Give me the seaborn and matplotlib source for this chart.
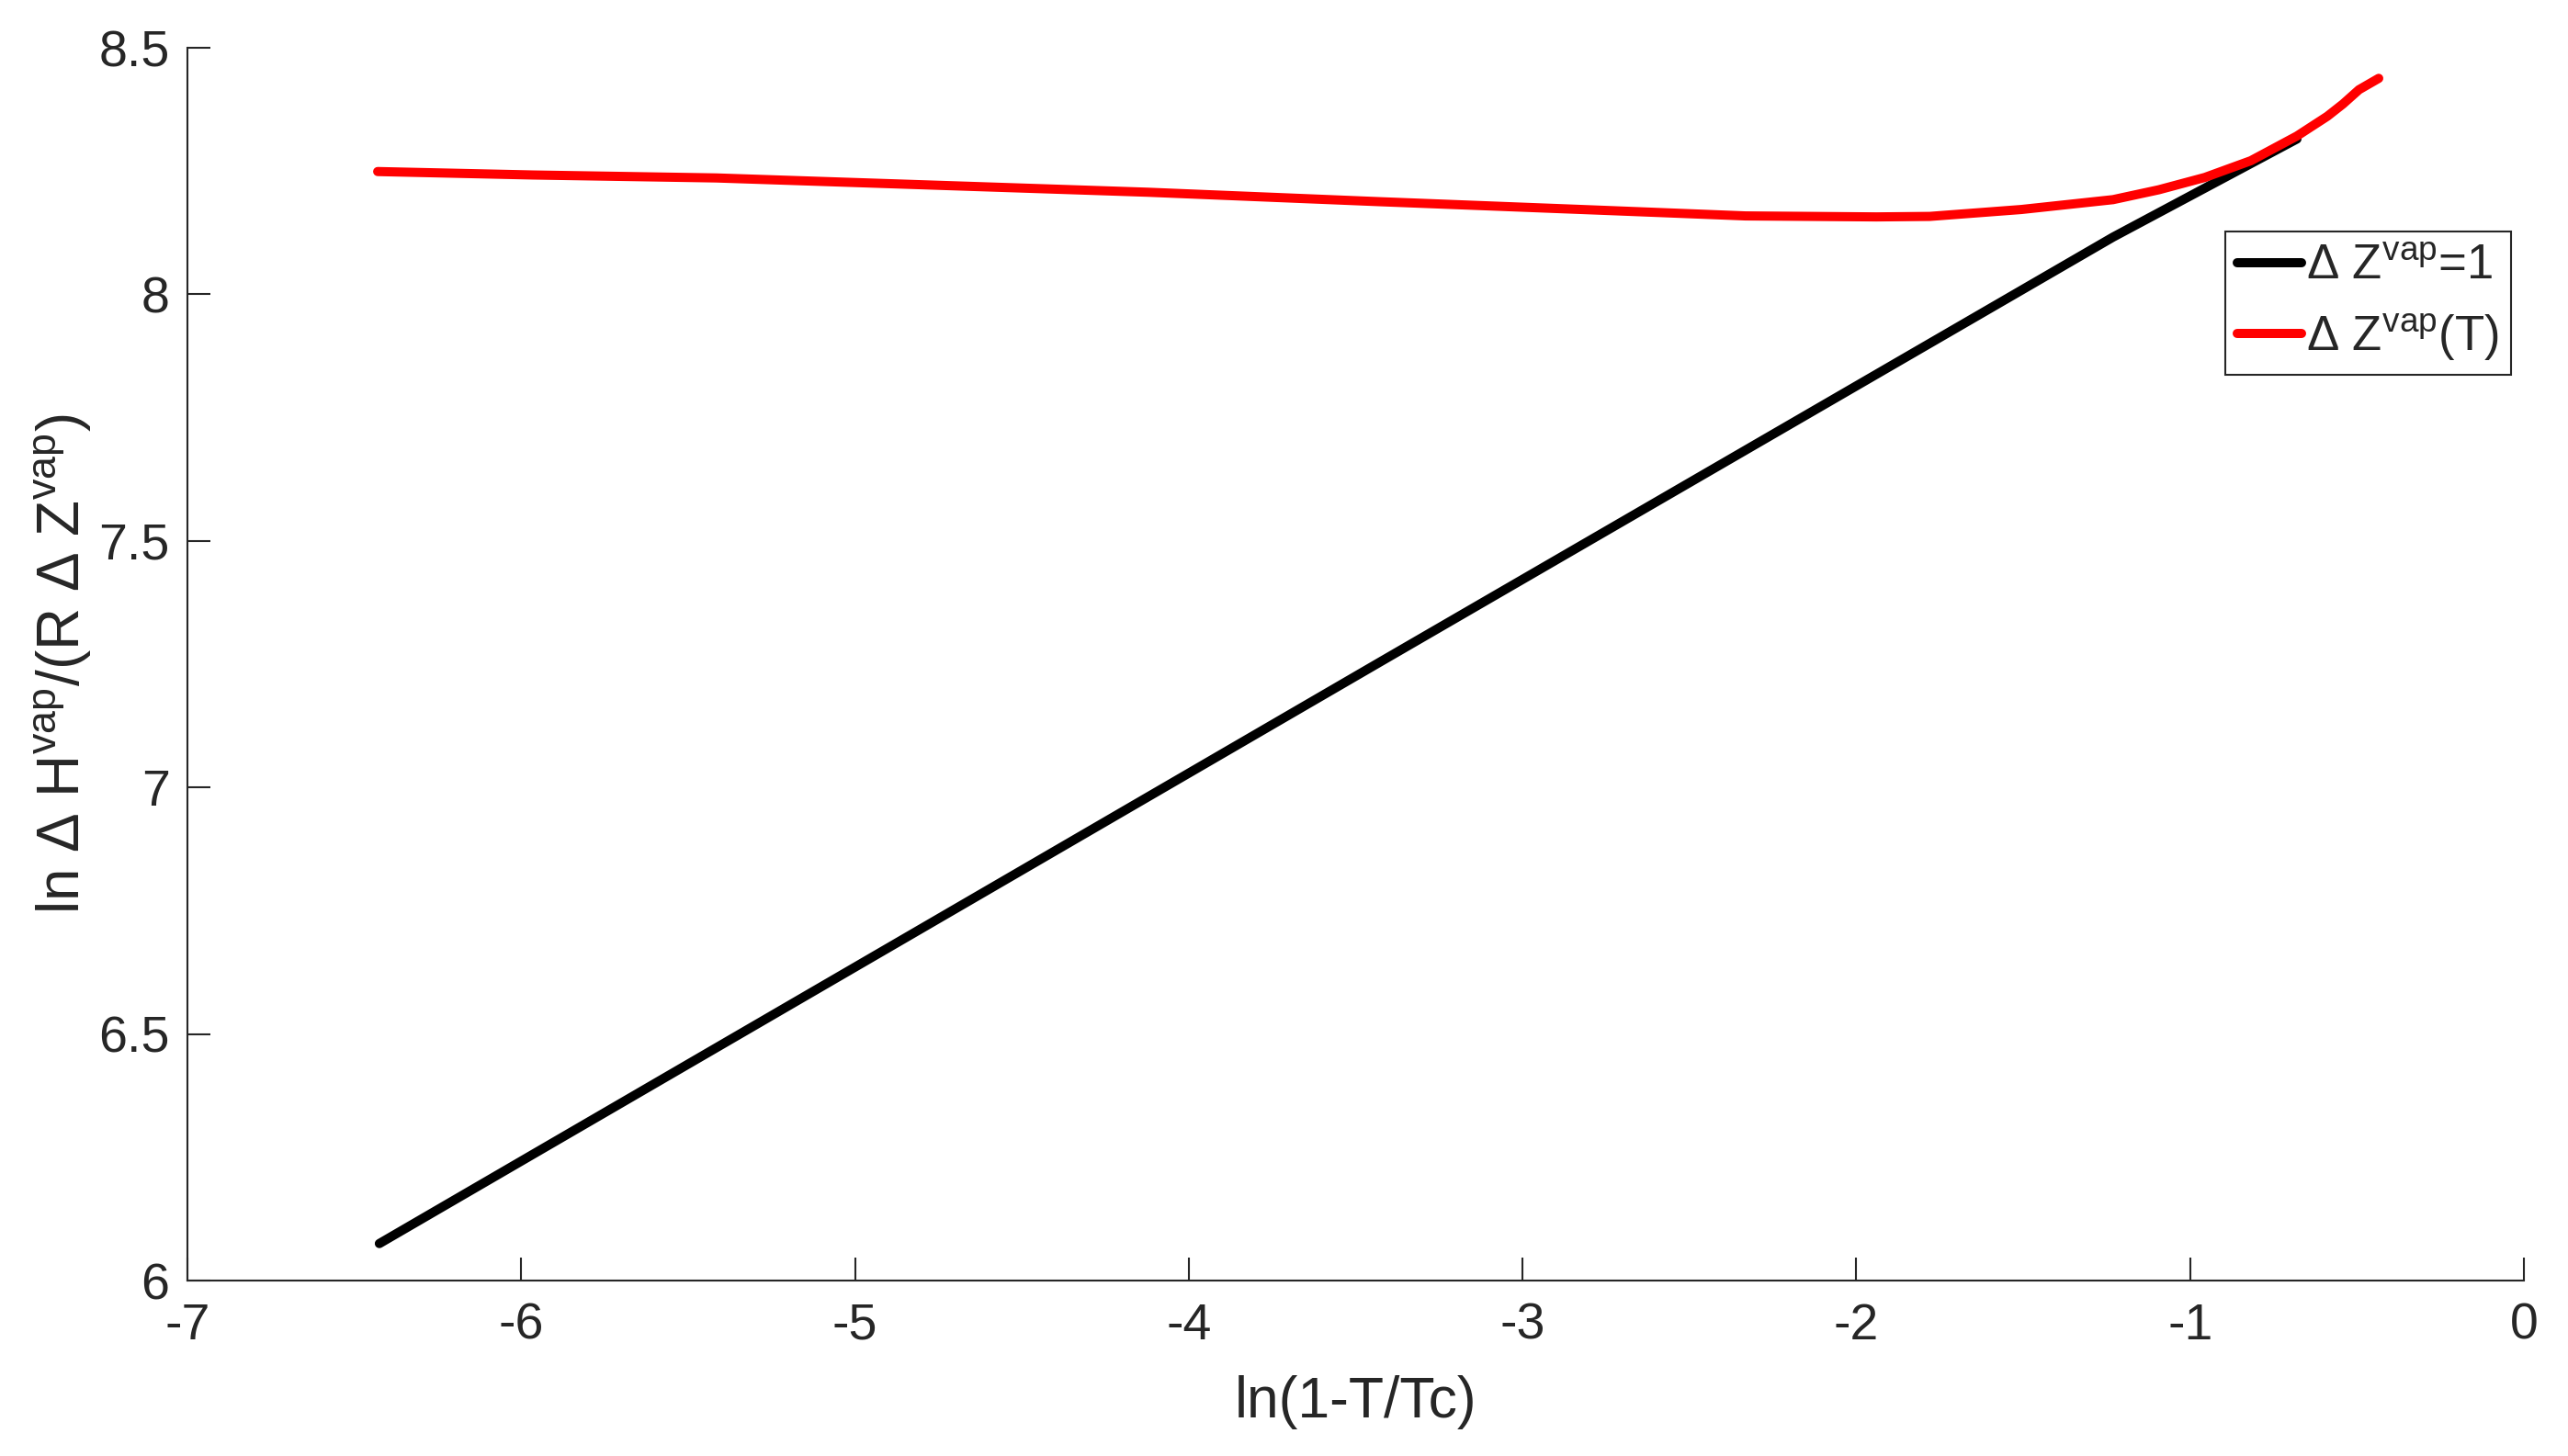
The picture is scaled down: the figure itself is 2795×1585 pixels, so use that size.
import pandas as pd
import matplotlib
matplotlib.use("Agg")
import matplotlib.pyplot as plt
import seaborn as sns

# values
black_x = [-6.425, -3.433, -1.231, -0.68]
black_y = [6.075, 7.252, 8.116, 8.315]

red_x = [-6.43, -5.965, -5.415, -4.121, -3.433, -2.745, -2.332, -1.94, -1.78,
         -1.506, -1.231, -1.094, -0.956, -0.818, -0.68, -0.589, -0.542, -0.494, -0.435]
red_y = [8.249, 8.242, 8.236, 8.207, 8.188, 8.170, 8.159, 8.157, 8.158,
         8.172, 8.192, 8.212, 8.237, 8.271, 8.321, 8.361, 8.386, 8.415, 8.438]

labels = ['Δ Z$^{\\mathregular{vap}}$=1', 'Δ Z$^{\\mathregular{vap}}$(T)']
x_ticks = [-7, -6, -5, -4, -3, -2, -1, 0]
y_ticks = [6, 6.5, 7, 7.5, 8, 8.5]

sns.set_style('ticks')
plt.rcParams['font.family'] = ['Liberation Sans', 'DejaVu Sans']
plt.rcParams['mathtext.fontset'] = 'custom'
plt.rcParams['mathtext.rm'] = 'Liberation Sans'

W, H = 2795, 1585
fig = plt.figure(figsize=(W / 100, H / 100), dpi=100)
ax = fig.add_axes([204 / W, 1 - 1394 / H, (2747 - 204) / W, (1394 - 52) / H])

df_black = pd.DataFrame({'x': black_x, 'y': black_y})
df_red = pd.DataFrame({'x': red_x, 'y': red_y})
sns.lineplot(data=df_black, x='x', y='y', ax=ax, color='black', lw=7.2,
             label=labels[0], sort=False)
sns.lineplot(data=df_red, x='x', y='y', ax=ax, color='#ff0000', lw=7.2,
             label=labels[1], sort=False)

ax.set_xlim(-7, 0)
ax.set_ylim(6, 8.5)
ax.set_xticks(x_ticks)
ax.set_xticklabels([str(t) for t in x_ticks])
ax.set_yticks(y_ticks)
ax.set_yticklabels(['6', '6.5', '7', '7.5', '8', '8.5'])

dark = '#262626'
for s in ['top', 'right']:
    ax.spines[s].set_visible(False)
for s in ['left', 'bottom']:
    ax.spines[s].set_color(dark)
    ax.spines[s].set_linewidth(1.5)
ax.tick_params(direction='in', length=18, width=1.5, colors=dark,
               labelsize=40, labelcolor=dark)
ax.tick_params(axis='x', pad=17)
ax.tick_params(axis='y', pad=14)

ax.set_xlabel('ln(1-T/Tc)', fontsize=45, color=dark, labelpad=20)
ax.set_ylabel('ln Δ H$^{\\mathregular{vap}}$/(R Δ Z$^{\\mathregular{vap}}$)',
              fontsize=46, color=dark, labelpad=4)

leg = ax.legend(loc='upper right', bbox_to_anchor=(0.9945, 0.851),
                borderaxespad=0, fontsize=38, frameon=True, fancybox=False,
                framealpha=1, edgecolor=dark, handlelength=1.33,
                handletextpad=0.1, borderpad=0.25, labelspacing=0.45)
leg.get_frame().set_linewidth(1.5)
for line in leg.get_lines():
    line.set_linewidth(7.2)

fig.savefig('out.png', dpi=100)
